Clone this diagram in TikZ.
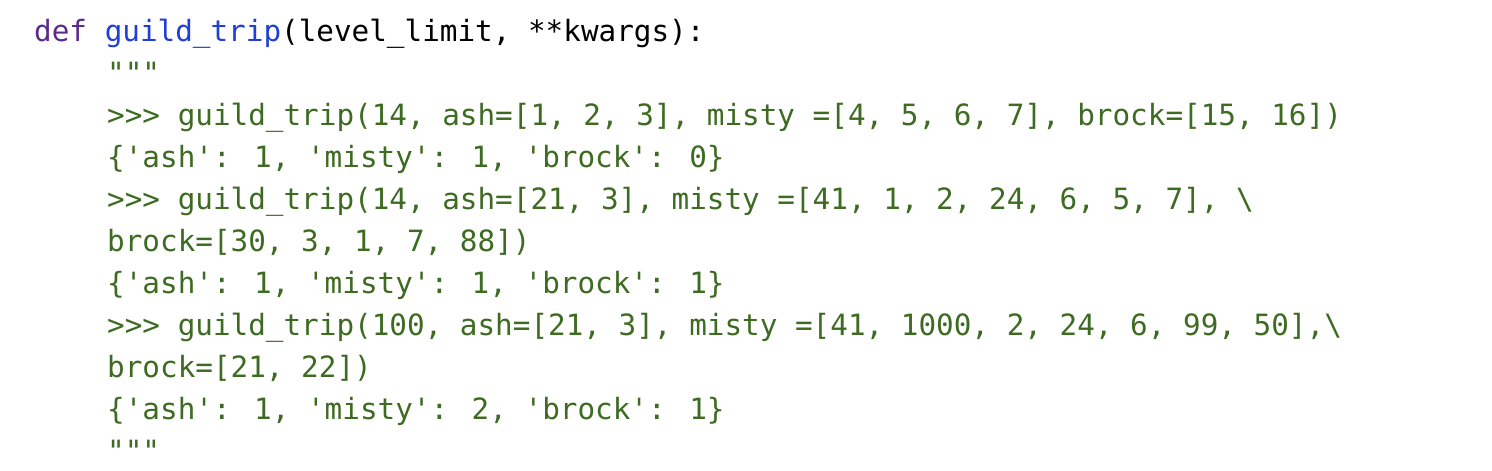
\documentclass[tikz,border=0pt]{standalone}
\usepackage{fontspec}
\newfontfamily\cf{DejaVu Sans Mono}
\definecolor{kw}{HTML}{5B2B8C}
\definecolor{fn}{HTML}{1F3FD6}
\definecolor{doc}{HTML}{3E6B22}
\tikzset{ln/.style={anchor=base west,inner sep=0pt,font=\cf\fontsize{29.3pt}{35pt}\selectfont}}
\begin{document}
\begin{tikzpicture}[x=1pt,y=1pt]
\useasboundingbox[fill=white] (0,0) rectangle (1492,-471);
\node[ln] (l0) at (34,-41) {\textcolor{kw}{def} \textcolor{fn}{guild\_trip}(level\_limit, **kwargs):};
\begin{scope}[every node/.append style={text=doc}]
\node[ln] (l1) at (107,-83) {"""};
\node[ln] (l2) at (107,-125) {>>> guild\_trip(14, ash=[1, 2, 3], misty =[4, 5, 6, 7], brock=[15, 16])};
\node[ln] (l3) at (107,-167) {\{'ash': 1, 'misty': 1, 'brock': 0\}};
\node[ln] (l4) at (107,-209) {>>> guild\_trip(14, ash=[21, 3], misty =[41, 1, 2, 24, 6, 5, 7], \textbackslash};
\node[ln] (l5) at (107,-251) {brock=[30, 3, 1, 7, 88])};
\node[ln] (l6) at (107,-293) {\{'ash': 1, 'misty': 1, 'brock': 1\}};
\node[ln] (l7) at (107,-335) {>>> guild\_trip(100, ash=[21, 3], misty =[41, 1000, 2, 24, 6, 99, 50],\textbackslash};
\node[ln] (l8) at (107,-377) {brock=[21, 22])};
\node[ln] (l9) at (107,-419) {\{'ash': 1, 'misty': 2, 'brock': 1\}};
\node[ln] (l10) at (107,-461) {"""};
\end{scope}
\end{tikzpicture}
\end{document}
